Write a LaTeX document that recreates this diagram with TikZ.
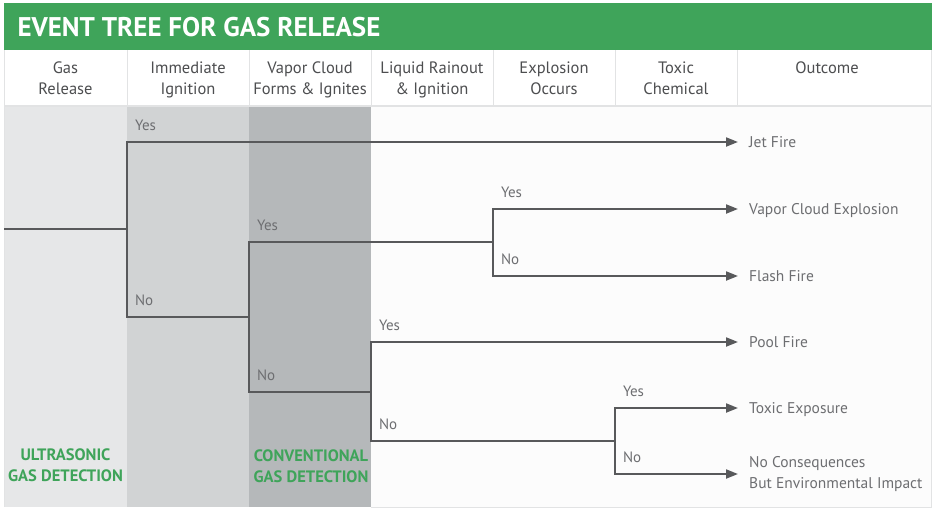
\documentclass[tikz,border=0pt]{standalone}
\usepackage{fontspec}
\setmainfont{PT Sans}
\usetikzlibrary{arrows.meta,calc,positioning}
\definecolor{bargreen}{HTML}{3FA45A}
\definecolor{linegray}{HTML}{58595B}
\definecolor{txtgray}{HTML}{6D6E71}
\definecolor{hdgray}{HTML}{4D4E50}
\definecolor{colA}{HTML}{E6E7E8}
\definecolor{colB}{HTML}{D1D3D4}
\definecolor{colC}{HTML}{B5B8BA}
\definecolor{rulegray}{HTML}{E2E3E4}
\tikzset{br/.style={draw=linegray, line width=2pt},
  pin/.style={br, -{Triangle[length=12pt,width=9pt]}},
  yn/.style={text=txtgray, font=\fontsize{15}{18}\selectfont, inner sep=0pt,
    anchor=south west, xshift=7pt, yshift=10pt},
  res/.style={text=txtgray, font=\fontsize{15.5}{21}\selectfont, anchor=west,
    inner xsep=11pt, inner ysep=0pt, text height=10.5pt, text depth=0pt, align=left},
  hd/.style={text=hdgray, font=\fontsize{16.5}{20.5}\selectfont, align=center, anchor=north},
  det/.style={text=bargreen, font=\bfseries\fontsize{16.5}{21}\selectfont, align=center}}

\begin{document}
\begin{tikzpicture}[x=1pt, y=-1pt]
  \useasboundingbox (0,0) rectangle (934,514);
  % title bar
  \fill[bargreen] (4,3) rectangle (932,50);
  \node[text=white, font=\bfseries\fontsize{27}{30}\selectfont, anchor=west] (title)
    at (14,27) {EVENT TREE FOR GAS RELEASE};
  % header row and columns
  \fill[white] (4,50) rectangle (931,106);
  \fill[colA] (4,106) rectangle (127,507);
  \fill[colB] (127,106) rectangle (249,507);
  \fill[colC] (249,106) rectangle (371,507);
  \fill[white!99!black] (371,106) rectangle (931,507);
  \draw[rulegray, line width=1.2pt] (4,106) -- (931,106);
  \draw[rulegray, line width=1pt] (371,507) -- (931,507) -- (931,50);
  \draw[rulegray, line width=1pt] (4,50) -- (4,507);
  \foreach \x in {127,249,371,493,615,737}
    \draw[rulegray, line width=1pt] (\x,50) -- (\x,106);
  \node[hd] (h1) at (65.5,58.5) {Gas\\Release};
  \node[hd] (h2) at (188,58.5) {Immediate\\Ignition};
  \node[hd] (h3) at (310,58.5) {Vapor Cloud\\Forms \& Ignites};
  \node[hd] (h4) at (432,58.5) {Liquid Rainout\\\& Ignition};
  \node[hd] (h5) at (554,58.5) {Explosion\\Occurs};
  \node[hd] (h6) at (676,58.5) {Toxic\\Chemical};
  \node[hd] (h7) at (827,58.5) {Outcome};
  % detection labels
  \node[det] (us) at (65.5,465) {ULTRASONIC\\GAS DETECTION};
  \node[det] (cv) at (311,466) {CONVENTIONAL\\GAS DETECTION};
  % branch points
  \coordinate (rel) at (4,229);
  \coordinate (ig) at (127,229);
  \coordinate (vc) at (249,317);
  \coordinate (ex) at (493,242);
  \coordinate (rn) at (371,392);
  \coordinate (tx) at (615,441);
  % outcomes
  \node[res] (jet) at (738,142) {Jet Fire};
  \node[res] (vce) at (738,209) {Vapor Cloud Explosion};
  \node[res] (ff) at (738,276) {Flash Fire};
  \node[res] (pf) at (738,342) {Pool Fire};
  \node[res] (toxe) at (738,408) {Toxic Exposure};
  \node[res, text height={}, text depth={}] (noc) at (738,474)
    {No Consequences\\But Environmental Impact};
  % tree
  \draw[br] (rel) -- (ig);
  \draw[pin] (ig) |- node[yn, pos=0.5] {Yes} (jet);
  \draw[br] (ig) |- node[yn, pos=0.5] {No} (vc);
  \draw[br] (vc) |- node[yn, pos=0.5] {Yes} (ex);
  \draw[br] (vc) |- node[yn, pos=0.5] {No} (rn);
  \draw[pin] (ex) |- node[yn, pos=0.5] {Yes} (vce);
  \draw[pin] (ex) |- node[yn, pos=0.5] {No} (ff);
  \draw[pin] (rn) |- node[yn, pos=0.5] {Yes} (pf);
  \draw[br] (rn) |- node[yn, pos=0.5] {No} (tx);
  \draw[pin] (tx) |- node[yn, pos=0.5] {Yes} (toxe);
  \draw[pin] (tx) |- node[yn, pos=0.5] {No} (noc.west);
\end{tikzpicture}
\end{document}
